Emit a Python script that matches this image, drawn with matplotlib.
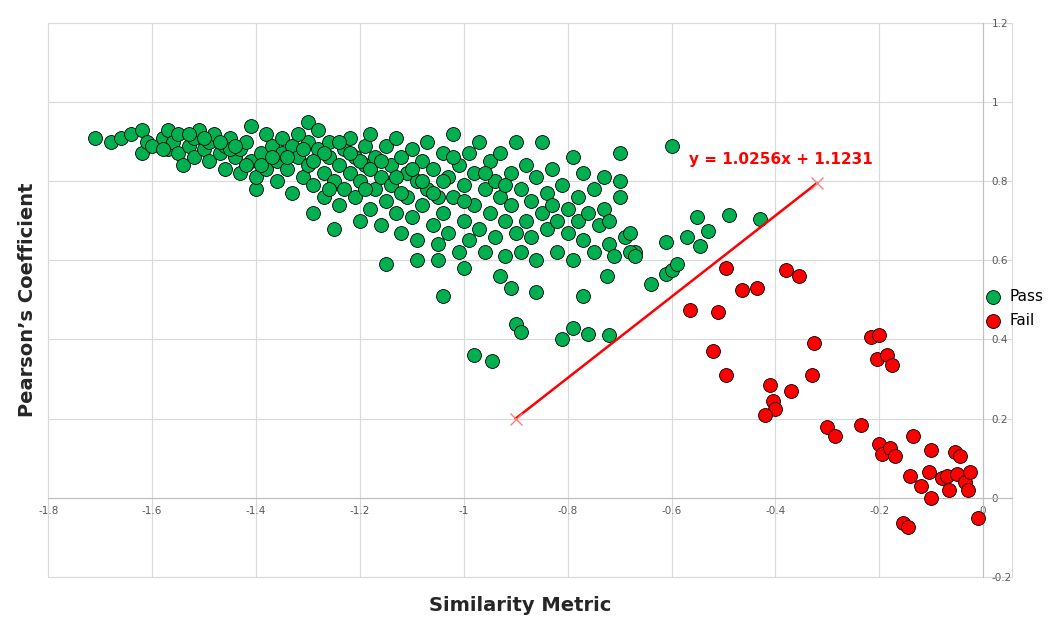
import numpy as np
import matplotlib.pyplot as plt
from matplotlib.patches import Rectangle

# Pass points
pass_pts = [
    (-1.71, .91), (-1.68, .90), (-1.66, .91), (-1.64, .92), (-1.62, .93), (-1.62, .87), (-1.61, .90), (-1.60, .89),
    (-1.58, .91), (-1.57, .93), (-1.57, .88), (-1.56, .90), (-1.55, .92), (-1.55, .87), (-1.54, .84), (-1.53, .89),
    (-1.52, .91), (-1.52, .86), (-1.51, .93), (-1.50, .88), (-1.49, .90), (-1.49, .85), (-1.48, .92), (-1.47, .87),
    (-1.46, .89), (-1.46, .83), (-1.45, .91), (-1.44, .86), (-1.43, .88), (-1.43, .82), (-1.42, .90), (-1.41, .94),
    (-1.41, .85), (-1.40, .78), (-1.40, .81), (-1.39, .87), (-1.38, .92), (-1.38, .83), (-1.37, .89), (-1.36, .85),
    (-1.36, .80), (-1.35, .91), (-1.35, .87), (-1.34, .83), (-1.33, .89), (-1.33, .77), (-1.32, .86), (-1.31, .81),
    (-1.30, .95), (-1.30, .90), (-1.30, .84), (-1.29, .79), (-1.29, .72), (-1.28, .88), (-1.28, .93), (-1.27, .82),
    (-1.27, .76), (-1.26, .86), (-1.26, .90), (-1.25, .80), (-1.25, .68), (-1.24, .84), (-1.24, .74), (-1.23, .88),
    (-1.23, .78), (-1.22, .91), (-1.22, .82), (-1.21, .86), (-1.21, .76), (-1.20, .70), (-1.20, .80), (-1.19, .89),
    (-1.19, .84), (-1.18, .73), (-1.18, .92), (-1.17, .78), (-1.17, .86), (-1.16, .81), (-1.16, .69), (-1.15, .75),
    (-1.15, .89), (-1.14, .84), (-1.14, .79), (-1.13, .72), (-1.13, .91), (-1.12, .86), (-1.12, .67), (-1.11, .82),
    (-1.11, .76), (-1.10, .88), (-1.10, .71), (-1.09, .80), (-1.09, .65), (-1.08, .85), (-1.08, .74), (-1.07, .90),
    (-1.07, .78), (-1.06, .69), (-1.06, .83), (-1.05, .64), (-1.05, .76), (-1.04, .87), (-1.04, .72), (-1.03, .81),
    (-1.03, .67), (-1.02, .92), (-1.02, .76), (-1.01, .62), (-1.01, .84), (-1.00, .70), (-1.00, .79), (-0.99, .87),
    (-0.99, .65), (-0.98, .74), (-0.98, .82), (-0.97, .68), (-0.97, .90), (-0.96, .78), (-0.96, .62), (-0.95, .85),
    (-0.95, .72), (-0.94, .66), (-0.94, .80), (-0.93, .76), (-0.93, .87), (-0.92, .70), (-0.92, .61), (-0.91, .82),
    (-0.91, .74), (-0.90, .90), (-0.90, .67), (-0.89, .78), (-0.89, .62), (-0.88, .84), (-0.88, .70), (-0.87, .75),
    (-0.87, .66), (-0.86, .81), (-0.86, .60), (-0.85, .90), (-0.85, .72), (-0.84, .77), (-0.84, .68), (-0.83, .74),
    (-0.83, .83), (-0.82, .70), (-0.82, .62), (-0.81, .79), (-0.80, .73), (-0.80, .67), (-0.79, .86), (-0.79, .60),
    (-0.78, .76), (-0.78, .70), (-0.77, .82), (-0.77, .65), (-0.76, .72), (-0.75, .78), (-0.75, .62), (-0.74, .69),
    (-0.73, .81), (-0.73, .73), (-0.72, .64), (-0.72, .70), (-0.71, .61), (-0.70, .80), (-0.70, .76), (-0.69, .66),
    (-0.68, .67), (-0.67, .62),
    (-1.45, .88), (-1.39, .84), (-1.32, .92), (-1.27, .87), (-1.20, .85), (-1.13, .81), (-1.06, .77), (-1.53, .92),
    (-1.47, .90), (-1.37, .86), (-1.31, .88), (-1.24, .90), (-1.18, .83), (-1.10, .83), (-1.02, .86),
    (-1.58, .88), (-1.50, .91), (-1.44, .89), (-1.42, .84), (-1.34, .86), (-1.29, .85), (-1.22, .87), (-1.16, .85),
    (-1.08, .80), (-1.00, .75), (-0.96, .82), (-0.92, .79), (-1.26, .78), (-1.19, .78), (-1.12, .77), (-1.04, .80),
    (-0.98, .36), (-0.945, .345), (-1.04, .51), (-0.90, .44), (-0.89, .42), (-0.81, .40), (-0.79, .43), (-0.76, .415),
    (-0.72, .41), (-0.77, .51), (-0.86, .52), (-0.60, .89), (-0.70, .87), (-0.55, .71), (-0.49, .715), (-0.43, .705),
    (-0.53, .675), (-0.545, .635), (-0.57, .66), (-0.61, .645), (-0.61, .565), (-0.60, .575), (-0.59, .59), (-0.64, .54),
    (-0.68, .62), (-0.67, .61), (-0.725, .56), (-0.93, .56), (-0.91, .53), (-1.15, .59), (-1.09, .60), (-1.05, .60),
    (-1.00, .58),
]
pass_x = [p[0] for p in pass_pts]
pass_y = [p[1] for p in pass_pts]

fail_x = [-0.565, -0.51, -0.52, -0.495, -0.495, -0.465, -0.435, -0.38, -0.355, -0.325, -0.33, -0.37, -0.41, -0.405,
          -0.40, -0.42, -0.30, -0.285, -0.235, -0.215, -0.20, -0.205, -0.185, -0.175, -0.20, -0.195, -0.18, -0.17,
          -0.135, -0.10, -0.14, -0.12, -0.105, -0.10, -0.08, -0.07, -0.065, -0.055, -0.045, -0.05, -0.035, -0.03,
          -0.025, -0.155, -0.145, -0.01]
fail_y = [0.475, 0.47, 0.37, 0.31, 0.58, 0.525, 0.53, 0.575, 0.56, 0.39, 0.31, 0.27, 0.285, 0.245,
          0.225, 0.21, 0.18, 0.155, 0.185, 0.405, 0.41, 0.35, 0.36, 0.335, 0.135, 0.11, 0.125, 0.105,
          0.155, 0.12, 0.055, 0.03, 0.065, 0.0, 0.05, 0.055, 0.02, 0.115, 0.105, 0.06, 0.04, 0.02,
          0.065, -0.065, -0.075, -0.05]

slope, intercept = 1.0256, 1.1231
fit_x = [-0.9, -0.32]

fig = plt.figure(figsize=(10.5, 6.17), dpi=100)
ax = fig.add_axes([0.046, 0.065, 0.918, 0.898])

ax.set_xlim(-1.8, 0.056)
ax.set_ylim(-0.2, 1.2)
ax.set_xticks(np.arange(-1.8, 0.01, 0.2))
ax.set_yticks(np.arange(-0.2, 1.21, 0.2))
ax.set_xticklabels(['-1.8', '-1.6', '-1.4', '-1.2', '-1', '-0.8', '-0.6', '-0.4', '-0.2', '0'])
ax.set_yticklabels(['-0.2', '0', '0.2', '0.4', '0.6', '0.8', '1', '1.2'])
ax.grid(True, color='#D9D9D9', lw=0.8, zorder=0)
ax.set_axisbelow(True)

# axes cross at zero, Excel style
ax.spines['bottom'].set_position(('data', 0))
ax.spines['right'].set_position(('data', 0))
ax.spines['bottom'].set_color('#BFBFBF')
ax.spines['right'].set_color('#BFBFBF')
ax.spines['top'].set_visible(False)
ax.spines['left'].set_visible(False)
ax.yaxis.tick_right()
ax.tick_params(length=0, labelsize=7.5, colors='#595959')
ax.tick_params(axis='x', pad=6)
ax.tick_params(axis='y', pad=6)
ax.add_patch(Rectangle((0, 0), 1, 1, transform=ax.transAxes, fill=False,
                       edgecolor='#D9D9D9', lw=0.8, clip_on=False, zorder=0))

ax.scatter(pass_x, pass_y, s=100, c='#00B050', edgecolors='black', linewidths=0.6, zorder=3, label='Pass')
ax.scatter(fail_x, fail_y, s=100, c='#FF0000', edgecolors='black', linewidths=0.6, zorder=3, label='Fail')

fit_y = [slope * x + intercept for x in fit_x]
ax.plot(fit_x, fit_y, color='#FF0000', lw=1.8, zorder=4)
ax.plot(fit_x, fit_y, ls='none', marker='x', ms=9, color='#FF7F7F', zorder=4)
ax.text(-0.39, 0.835, f"y = {slope}x + {intercept}", color='#FF0000', fontsize=11,
        fontweight='bold', ha='center', va='bottom', zorder=5)

ax.set_xlabel('Similarity Metric', fontsize=14, fontweight='bold', color='#262626')
ax.set_ylabel('Pearson\u2019s Coefficient', fontsize=14, fontweight='bold', color='#262626')
ax.xaxis.set_label_coords(0.49, -0.035)
ax.yaxis.set_label_coords(-0.012, 0.5)

fig.legend(loc='center left', bbox_to_anchor=(0.925, 0.50), frameon=False, fontsize=11,
           handletextpad=0.1, labelspacing=0.6, borderaxespad=0)

fig.savefig('out.png', dpi=100)
